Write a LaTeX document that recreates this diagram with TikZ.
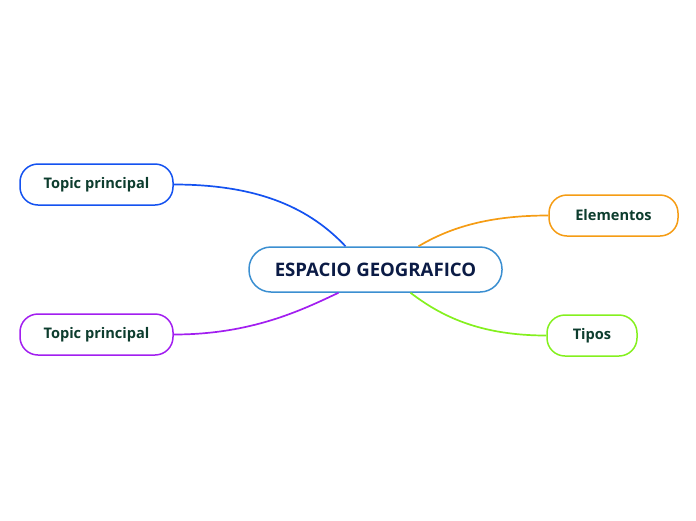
\documentclass[tikz,border=0pt]{standalone}
\usepackage{fontspec}
\setmainfont{Open Sans}
\usepackage{tikz}
\usetikzlibrary{positioning}

\definecolor{centreblue}{HTML}{3B8FD1}
\definecolor{topicblue}{HTML}{1452F0}
\definecolor{topicpurple}{HTML}{A21EF0}
\definecolor{topicorange}{HTML}{F59C14}
\definecolor{topicgreen}{HTML}{84F01E}
\definecolor{centretext}{HTML}{0B1B45}
\definecolor{topictext}{HTML}{0D3D2E}

\tikzset{
  centrebox/.style={draw=centreblue, line width=1.5pt, fill=white, rounded corners=22pt,
    minimum width=253pt, minimum height=45pt, text=centretext, font=\bfseries\fontsize{18.6}{22}\selectfont},
  topicbox/.style={draw=#1, line width=1.5pt, fill=white, rounded corners=18pt,
    minimum height=41pt, text=topictext, font=\bfseries\fontsize{14.6}{17}\selectfont},
  branch/.style={draw=#1, line width=1.7pt}
}

\begin{document}
\begin{tikzpicture}[x=1pt, y=-1pt]
    \useasboundingbox (0,0) rectangle (696,520);

    % central topic
    \node[centrebox] (centre) at (375.5, 269.5) {ESPACIO GEOGRAFICO};

    % main topics
    \node[topicbox=topicblue, minimum width=153pt]   (tpup)   at ( 96.5, 184.5) {Topic principal};
    \node[topicbox=topicpurple, minimum width=153pt] (tpdown) at ( 96.5, 334.5) {Topic principal};
    \node[topicbox=topicorange, minimum width=129pt] (elem)   at (613.5, 215.5) {Elementos};
    \node[topicbox=topicgreen, minimum width=90pt]   (tipos)  at (592,   335.5) {Tipos};

    % branches to the central topic
    \draw[branch=topicblue]   (tpup.east)   .. controls +(87,0)  and +(-35,-37) .. ([xshift=-30pt]centre.north);
    \draw[branch=topicpurple] (tpdown.east) .. controls +(77,0)  and +(-38,18)  .. ([xshift=-37pt]centre.south);
    \draw[branch=topicorange] (elem.west)   .. controls +(-59,0) and +(32,-19)  .. ([xshift=43pt]centre.north);
    \draw[branch=topicgreen]  (tipos.west)  .. controls +(-67,0) and +(30,23)   .. ([xshift=35pt]centre.south);
\end{tikzpicture}
\end{document}
